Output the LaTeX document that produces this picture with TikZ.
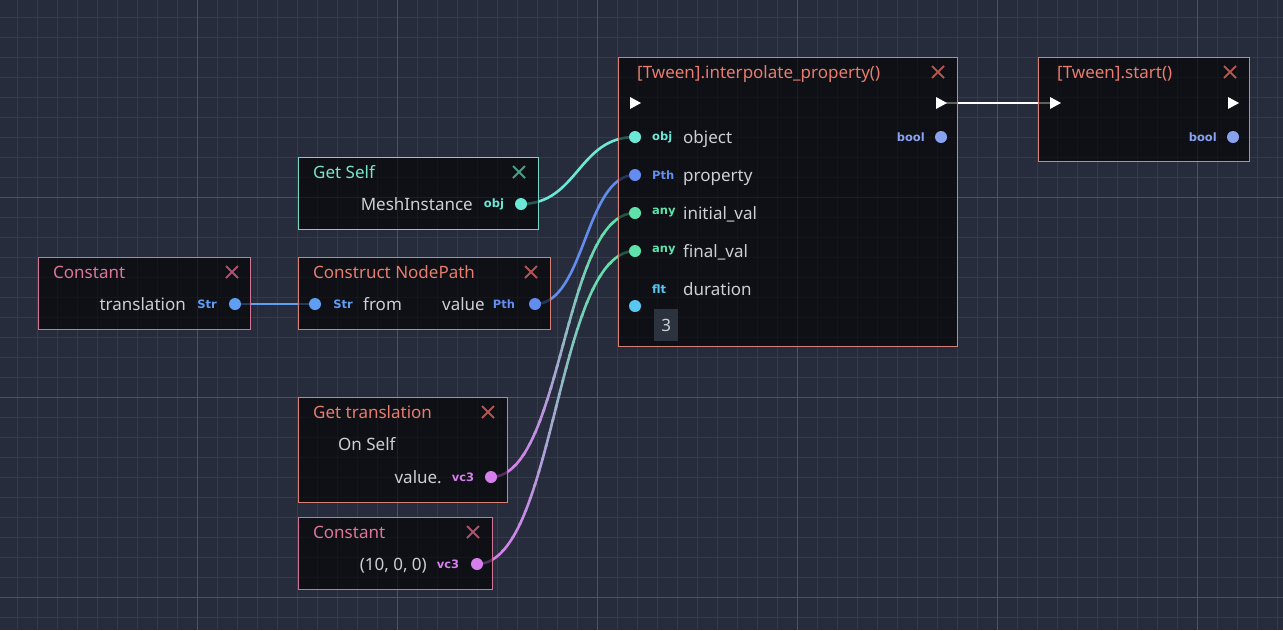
\documentclass[tikz,border=0pt]{standalone}
\usepackage{fontspec}
\setmainfont{Noto Sans}
\newfontfamily\tagfont{DejaVu Sans}
\definecolor{canvas}{RGB}{38,44,59}
\definecolor{gridminor}{RGB}{52,59,76}
\definecolor{gridmajor}{RGB}{74,82,101}
\definecolor{labeltext}{RGB}{205,207,213}
\definecolor{fnborder}{RGB}{214,128,118}
\definecolor{fntitle}{RGB}{232,124,110}
\definecolor{fnclose}{RGB}{176,86,80}
\definecolor{constborder}{RGB}{208,118,148}
\definecolor{consttitle}{RGB}{222,118,150}
\definecolor{constclose}{RGB}{170,84,110}
\definecolor{selfborder}{RGB}{118,214,198}
\definecolor{selftitle}{RGB}{122,228,198}
\definecolor{selfclose}{RGB}{72,160,132}
\definecolor{objport}{RGB}{108,232,214}
\definecolor{pthport}{RGB}{98,140,238}
\definecolor{strport}{RGB}{96,158,244}
\definecolor{anyport}{RGB}{94,226,170}
\definecolor{fltport}{RGB}{88,200,242}
\definecolor{boolport}{RGB}{136,162,240}
\definecolor{vecport}{RGB}{214,126,236}
\definecolor{valuebox}{RGB}{44,50,62}
\usetikzlibrary{calc}
\pgfdeclarelayer{grid}
\pgfdeclarelayer{wires}
\pgfsetlayers{grid,wires,main}

\tikzset{
  gnode/.style={draw, line width=1, fill=black, fill opacity=0.62, text opacity=1,
                anchor=north west, inner sep=0pt},
  port/.style={circle, inner sep=0pt, minimum size=12},
  slot/.style={text=labeltext, inner sep=0pt, text height=14, text depth=2,
               font=\fontsize{17}{20}\selectfont},
  title/.style={slot, anchor=west},
  tag/.style={inner sep=0pt, font=\tagfont\fontsize{11.5}{13}\selectfont\bfseries},
  wire/.style={line width=2.6, line cap=round},
}
\newcommand{\closemark}[2]{\draw[#2, line width=2] (#1) +(-6,-6) -- +(6,6) +(-6,6) -- +(6,-6);}
\newcommand{\execmark}[1]{\fill[white] (#1) +(-5,-6) -- +(6,0) -- +(-5,6) -- cycle;}

\begin{document}
\begin{tikzpicture}[x=1pt, y=-1pt]
  \useasboundingbox (0,0) rectangle (1283,630);

  % canvas with grid
  \begin{pgfonlayer}{grid}
    \fill[canvas] (0,0) rectangle (1283,630);
    \foreach \x in {17,37,...,1277} \draw[gridminor, line width=1] (\x,0) -- (\x,630);
    \foreach \y in {17,37,...,617} \draw[gridminor, line width=1] (0,\y) -- (1283,\y);
    \foreach \x in {197,397,...,1197} \draw[gridmajor, line width=1] (\x,0) -- (\x,630);
    \foreach \y in {197,397,597} \draw[gridmajor, line width=1] (0,\y) -- (1283,\y);
  \end{pgfonlayer}

  % [Tween].interpolate_property()
  \node[gnode, draw=fnborder, minimum width=339, minimum height=289] (tw) at (618,57) {};
  \node[title, text=fntitle] (tw-title) at (637,72) {[Tween].interpolate\_property()};
  \closemark{938,72}{fnclose}
  \coordinate (tw-ein) at (635,103);
  \coordinate (tw-eout) at (941,103);
  \execmark{tw-ein}
  \execmark{tw-eout}
  \foreach \y/\tg/\txt/\col/\nm in {137/obj/object/objport/obj,
                                   175/Pth/property/pthport/prop,
                                   213/any/initial\_val/anyport/init,
                                   251/any/final\_val/anyport/final} {
    \node[port, fill=\col] (tw-\nm) at (635,\y) {};
    \node[tag, text=\col, anchor=west] at (652,\y) {\tg};
    \node[slot, anchor=west] at (683,\y) {\txt};
  }
  \node[port, fill=fltport] (tw-dur) at (635,306) {};
  \node[tag, text=fltport, anchor=west] at (652,289) {flt};
  \node[slot, anchor=west] at (683,289) {duration};
  \node[fill=valuebox, text=labeltext, anchor=north west, minimum width=24, minimum height=32,
        inner sep=0pt, font=\fontsize{17}{20}\selectfont] (tw-dval) at (654,309) {3};
  \node[tag, text=boolport, anchor=east] at (925,137) {bool};
  \node[port, fill=boolport] (tw-bool) at (941,137) {};

  % [Tween].start()
  \node[gnode, draw=fnborder, minimum width=211, minimum height=104] (st) at (1038,57) {};
  \node[title, text=fntitle] (st-title) at (1057,72) {[Tween].start()};
  \closemark{1230,72}{fnclose}
  \coordinate (st-ein) at (1055,103);
  \coordinate (st-eout) at (1233,103);
  \execmark{st-ein}
  \execmark{st-eout}
  \node[tag, text=boolport, anchor=east] at (1217,137) {bool};
  \node[port, fill=boolport] (st-bool) at (1233,137) {};

  % Get Self
  \node[gnode, draw=selfborder, minimum width=240, minimum height=72] (gs) at (298,157) {};
  \node[title, text=selftitle] (gs-title) at (313,172) {Get Self};
  \closemark{519,172}{selfclose}
  \node[slot, anchor=east] at (473,204) {MeshInstance};
  \node[tag, text=objport] at (494,204) {obj};
  \node[port, fill=objport] (gs-out) at (521,204) {};

  % Constant (string)
  \node[gnode, draw=constborder, minimum width=212, minimum height=72] (cs) at (38,257) {};
  \node[title, text=consttitle] (cs-title) at (53,272) {Constant};
  \closemark{232,272}{constclose}
  \node[slot, anchor=east] at (186,304) {translation};
  \node[tag, text=strport] at (207,304) {Str};
  \node[port, fill=strport] (cs-out) at (235,304) {};

  % Construct NodePath
  \node[gnode, draw=fnborder, minimum width=252, minimum height=72] (np) at (298,257) {};
  \node[title, text=fntitle] (np-title) at (313,272) {Construct NodePath};
  \closemark{531,272}{fnclose}
  \node[port, fill=strport] (np-in) at (315,304) {};
  \node[tag, text=strport] at (343,304) {Str};
  \node[slot, anchor=west] at (363,304) {from};
  \node[slot, anchor=east] at (485,304) {value};
  \node[tag, text=pthport] at (504,304) {Pth};
  \node[port, fill=pthport] (np-out) at (535,304) {};

  % Get translation
  \node[gnode, draw=fnborder, minimum width=209, minimum height=105] (gt) at (298,397) {};
  \node[title, text=fntitle] (gt-title) at (313,412) {Get translation};
  \closemark{488,412}{fnclose}
  \node[slot, anchor=west] at (338,444) {On Self};
  \node[slot, anchor=east] at (442,477) {value.};
  \node[tag, text=vecport] at (463,477) {vc3};
  \node[port, fill=vecport] (gt-out) at (491,477) {};

  % Constant (vector)
  \node[gnode, draw=constborder, minimum width=194, minimum height=72] (cv) at (298,517) {};
  \node[title, text=consttitle] (cv-title) at (313,532) {Constant};
  \closemark{473,532}{constclose}
  \node[slot, anchor=east] at (427,564) {(10, 0, 0)};
  \node[tag, text=vecport] at (448,564) {vc3};
  \node[port, fill=vecport] (cv-out) at (477,564) {};

  % wires, under the nodes
  \begin{pgfonlayer}{wires}
    \draw[wire, white] (tw-eout) -- (st-ein);
    \draw[wire, strport] (cs-out.center) -- (np-in.center);
    \draw[wire, pthport] (np-out.center) .. controls +(50,0) and +(-50,0) .. (tw-prop.center);
    \draw[wire, objport] (gs-out.center) .. controls +(57,0) and +(-57,0) .. (tw-obj.center);
    % vc3 -> any: colour fades along the wire
    \foreach \a/\b/\cp in {gt-out/tw-init/72, cv-out/tw-final/79} {
      \foreach \i in {0,...,23} {
        \pgfmathsetmacro\ta{\i/24}
        \pgfmathsetmacro\tb{(\i+1)/24+0.004}
        \pgfmathtruncatemacro\mix{100-\i*100/23}
        \begin{scope}
          \clip ($(\a.center)!\ta!(\b.center)+(-220,0)$) rectangle ($(\a.center)!\tb!(\b.center)+(220,0)$);
          \draw[wire, vecport!\mix!anyport] (\a.center) .. controls +(\cp,0) and +(-\cp,0) .. (\b.center);
        \end{scope}
      }
    }
  \end{pgfonlayer}
\end{tikzpicture}
\end{document}
